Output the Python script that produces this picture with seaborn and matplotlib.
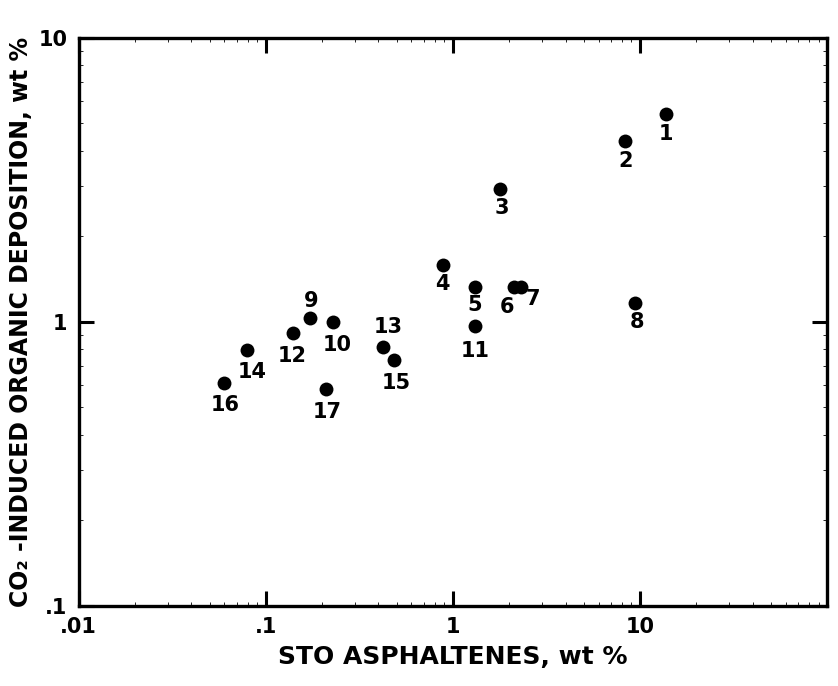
import numpy as np
import pandas as pd
import seaborn as sns
import matplotlib
matplotlib.use("Agg")
import matplotlib.pyplot as plt
from matplotlib.ticker import FixedLocator, LogLocator, NullFormatter

# valores (escala log-log)
amostras = list(range(1, 18))
asfaltenos = [13.7, 8.3, 1.79, 0.887, 1.315, 2.13, 2.31, 9.44, 0.172,
              0.229, 1.315, 0.139, 0.424, 0.079, 0.485, 0.0596, 0.209]
deposicao = [5.4, 4.34, 2.94, 1.58, 1.33, 1.32, 1.32, 1.16, 1.03,
             0.995, 0.968, 0.914, 0.818, 0.796, 0.734, 0.608, 0.580]

x_ticks = [0.01, 0.1, 1, 10]
x_tick_labels = [".01", ".1", "1", "10"]
y_ticks = [0.1, 1, 10]
y_tick_labels = [".1", "1", "10"]

# deslocamento dos rótulos (pixels)
offsets = [(0, -20), (1, -20), (2, -19), (-1, -19), (-1, -18), (-7, -20),
           (12, -12), (2, -19), (1, 17), (4, -23), (0, -25), (0, -23),
           (5, 20), (5, -22), (2, -23), (1, -22), (1, -23)]

df = pd.DataFrame({"amostra": amostras, "asfaltenos": asfaltenos,
                   "deposicao": deposicao})

sns.set_style("ticks")
plt.rcParams["font.family"] = ["DejaVu Sans"]
plt.rcParams["font.weight"] = "bold"
plt.rcParams["text.color"] = "black"
plt.rcParams["axes.labelcolor"] = "black"
plt.rcParams["xtick.color"] = "black"
plt.rcParams["ytick.color"] = "black"

fig = plt.figure(figsize=(8.38, 6.86), dpi=100)
ax = fig.add_axes([0.094, 0.117, 0.893, 0.828])

sns.scatterplot(data=df, x="asfaltenos", y="deposicao", ax=ax,
                color="black", s=100, edgecolor="black", linewidth=0, zorder=3)

ax.set_xscale("log")
ax.set_yscale("log")
ax.set_xlim(0.01, 100)
ax.set_ylim(0.1, 10)

for n, xv, yv, off in zip(df["amostra"], df["asfaltenos"], df["deposicao"], offsets):
    ax.annotate(str(n), (xv, yv), xytext=off, textcoords="offset pixels",
                ha="center", va="center", fontsize=15, fontweight="bold",
                color="black")

ax.xaxis.set_major_locator(FixedLocator(x_ticks))
ax.set_xticklabels(x_tick_labels)
ax.yaxis.set_major_locator(FixedLocator(y_ticks))
ax.set_yticklabels(y_tick_labels)
ax.xaxis.set_minor_locator(LogLocator(base=10, subs=np.arange(2, 10)))
ax.yaxis.set_minor_locator(LogLocator(base=10, subs=np.arange(2, 10)))
ax.xaxis.set_minor_formatter(NullFormatter())
ax.yaxis.set_minor_formatter(NullFormatter())

ax.tick_params(which="major", direction="in", length=11, width=2.2,
               top=True, right=True, labelsize=15, pad=8)
ax.tick_params(which="minor", direction="in", length=3, width=0.6,
               top=True, right=True)
for lab in ax.get_xticklabels() + ax.get_yticklabels():
    lab.set_fontweight("bold")

for spine in ax.spines.values():
    spine.set_linewidth(2.4)
    spine.set_color("black")

ax.set_xlabel("STO ASPHALTENES, wt %", fontsize=18, fontweight="bold", labelpad=6)
ax.set_ylabel("CO\u2082 -INDUCED ORGANIC DEPOSITION, wt %", fontsize=17,
              fontweight="bold", labelpad=4)

fig.savefig("out.png", dpi=100, facecolor="white")
